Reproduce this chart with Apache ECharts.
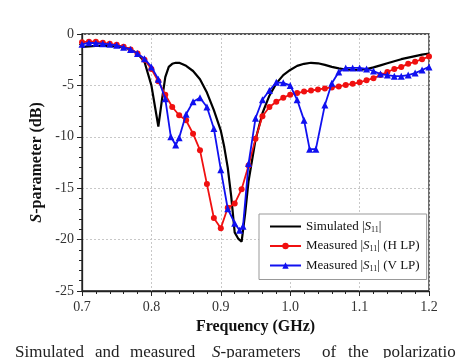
<!DOCTYPE html>
<html><head><meta charset="utf-8">
<script src="https://cdn.jsdelivr.net/npm/echarts@6/dist/echarts.min.js"></script>
<style>html,body{margin:0;padding:0;background:#fff}#c{width:474px;height:358px}</style>
</head><body><div id="c"></div>
<script>
// Simulated |S11| [GHz, dB]
const simFreq = [0.70,0.72,0.74,0.76,0.77,0.78,0.79,0.80,0.805,0.81,0.815,0.82,0.825,0.83,0.835,0.84,0.85,0.86,0.87,0.88,0.89,0.90,0.905,0.91,0.915,0.92,0.925,0.93,0.935,0.94,0.95,0.96,0.97,0.98,0.99,1.00,1.01,1.02,1.03,1.04,1.05,1.06,1.07,1.08,1.09,1.10,1.11,1.12,1.13,1.14,1.15,1.16,1.17,1.18,1.19,1.20];
const simVal  = [-1.25,-1.15,-1.15,-1.3,-1.5,-1.9,-2.7,-5.0,-7.0,-9.0,-6.5,-4.2,-3.2,-2.9,-2.8,-2.8,-3.1,-3.6,-4.4,-5.7,-7.4,-9.4,-11.0,-13.0,-15.8,-19.3,-19.9,-20.2,-17.5,-14.3,-10.3,-7.7,-6.0,-4.8,-4.0,-3.5,-3.1,-2.9,-2.8,-2.85,-3.0,-3.2,-3.35,-3.45,-3.5,-3.5,-3.4,-3.25,-3.05,-2.85,-2.65,-2.45,-2.3,-2.15,-2.0,-1.9];
// Measured |S11| (H LP)
const hFreq = [0.70,0.71,0.72,0.73,0.74,0.75,0.76,0.77,0.78,0.79,0.80,0.81,0.82,0.83,0.84,0.85,0.86,0.87,0.88,0.89,0.90,0.91,0.92,0.93,0.94,0.95,0.96,0.97,0.98,0.99,1.00,1.01,1.02,1.03,1.04,1.05,1.06,1.07,1.08,1.09,1.10,1.11,1.12,1.13,1.14,1.15,1.16,1.17,1.18,1.19,1.20];
const hVal  = [-0.8,-0.75,-0.75,-0.85,-0.95,-1.05,-1.25,-1.5,-1.9,-2.5,-3.4,-4.6,-5.9,-7.1,-7.9,-8.4,-9.7,-11.3,-14.6,-17.9,-18.9,-16.9,-16.5,-15.1,-12.8,-10.2,-8.0,-7.1,-6.6,-6.2,-5.9,-5.75,-5.6,-5.5,-5.4,-5.3,-5.2,-5.1,-4.95,-4.85,-4.7,-4.5,-4.3,-4.0,-3.7,-3.4,-3.2,-2.9,-2.7,-2.45,-2.2];
// Measured |S11| (V LP)
const vFreq = [0.70,0.71,0.72,0.73,0.74,0.75,0.76,0.77,0.78,0.79,0.80,0.81,0.82,0.828,0.835,0.84,0.85,0.86,0.87,0.88,0.89,0.90,0.91,0.92,0.927,0.932,0.94,0.95,0.96,0.97,0.98,0.99,1.00,1.01,1.02,1.028,1.037,1.05,1.06,1.07,1.08,1.09,1.10,1.11,1.12,1.13,1.14,1.15,1.16,1.17,1.18,1.19,1.20];
const vVal  = [-1.0,-0.85,-0.9,-0.95,-1.0,-1.1,-1.3,-1.5,-1.9,-2.4,-3.2,-4.4,-6.3,-10.0,-10.8,-10.1,-7.8,-6.6,-6.2,-7.1,-9.2,-13.2,-17.0,-18.4,-19.1,-18.7,-12.6,-8.2,-6.4,-5.5,-4.7,-4.75,-5.0,-6.4,-8.4,-11.2,-11.2,-6.9,-4.8,-3.7,-3.3,-3.3,-3.3,-3.4,-3.6,-3.9,-4.0,-4.1,-4.1,-4.0,-3.8,-3.5,-3.2];
const xTicks = [0.7,0.8,0.9,1.0,1.1,1.2];
const yTicks = [0,-5,-10,-15,-20,-25];
const seriesNames = ['Simulated','Measured H','Measured V'];
const legendHead = {'Simulated':'Simulated ', 'Measured H':'Measured ', 'Measured V':'Measured '};
const legendTail = {'Simulated':'', 'Measured H':' (H LP)', 'Measured V':' (V LP)'};
const captionWords = ['Simulated','and','measured','{i|S}{n|-parameters}','of','the','polarizatio'];
const captionX = [15,95,130,212,322,348,383];

const zip = (a,b) => a.map((x,i)=>[x,b[i]]);
const serif = '"Liberation Serif","Times New Roman",serif';
const chart = echarts.init(document.getElementById('c'), null, {renderer:'canvas'});
const axisCommon = {
  axisLine:{show:true,onZero:false,lineStyle:{color:'#222',width:1.3}},
  axisTick:{show:true,inside:false,length:5,lineStyle:{color:'#222',width:1}},
  minorTick:{show:true,splitNumber:5,length:3,lineStyle:{color:'#222',width:1}},
  splitLine:{show:true,lineStyle:{color:'#c8c8c8',type:[2,2],width:1}},
  axisLabel:{fontFamily:serif,fontSize:14,color:'#333'}
};
chart.setOption({
  animation:false,
  grid:{left:82,right:45,top:34,bottom:67,show:true,borderColor:'#222',borderWidth:1.3,backgroundColor:'transparent'},
  xAxis:Object.assign({}, axisCommon, {
    type:'value',min:xTicks[0],max:xTicks[xTicks.length-1],interval:0.1,
    axisLabel:Object.assign({}, axisCommon.axisLabel,{margin:9,formatter:v=>v.toFixed(1)}),
    name:'Frequency (GHz)',nameLocation:'middle',nameGap:25,
    nameTextStyle:{fontFamily:serif,fontSize:16,fontWeight:'bold',color:'#111'}
  }),
  yAxis:Object.assign({}, axisCommon, {
    type:'value',min:yTicks[yTicks.length-1],max:yTicks[0],interval:5,
    axisLabel:Object.assign({}, axisCommon.axisLabel,{margin:8}),
    name:'{i|S}{n|-parameter (dB)}',nameLocation:'middle',nameGap:37,nameRotate:90,
    nameTextStyle:{rich:{
      i:{fontFamily:serif,fontSize:16,fontWeight:'bold',fontStyle:'italic',color:'#111'},
      n:{fontFamily:serif,fontSize:16,fontWeight:'bold',color:'#111'}}}
  }),
  legend:{
    orient:'vertical',left:259,top:214,
    backgroundColor:'#fff',borderColor:'#999',borderWidth:1,
    padding:[6,7,7,10],itemGap:6,itemWidth:31,itemHeight:8,
    data:[{name:seriesNames[0],itemStyle:{opacity:0}},seriesNames[1],seriesNames[2]],
    formatter:name=>'{n|'+legendHead[name]+'|}{i|S}{s|11}{n||'+legendTail[name]+'}',
    textStyle:{rich:{
      n:{fontFamily:serif,fontSize:13,color:'#111'},
      i:{fontFamily:serif,fontSize:13,fontStyle:'italic',color:'#111'},
      s:{fontFamily:serif,fontSize:8,color:'#111',verticalAlign:'bottom',padding:[6,0,0,0]}}}
  },
  series:[
    {name:seriesNames[0],type:'line',data:zip(simFreq,simVal),showSymbol:false,symbol:'none',
     lineStyle:{color:'#000',width:2.2},itemStyle:{color:'#000'},z:3},
    {name:seriesNames[1],type:'line',data:zip(hFreq,hVal),symbol:'circle',symbolSize:6,
     lineStyle:{color:'#f01010',width:1.8},itemStyle:{color:'#f01010'},z:4},
    {name:seriesNames[2],type:'line',data:zip(vFreq,vVal),symbol:'triangle',symbolSize:7,
     lineStyle:{color:'#1010f0',width:1.8},itemStyle:{color:'#1010f0'},z:5}
  ],
  graphic:captionWords.map((w,i)=>({type:'text',left:captionX[i],top:344,style:{
    text:w.indexOf('{')>=0?w:'{n|'+w+'}',
    rich:{n:{fontFamily:serif,fontSize:17,fill:'#222'},i:{fontFamily:serif,fontSize:17,fontStyle:'italic',fill:'#222'}}}}))
});
</script></body></html>
